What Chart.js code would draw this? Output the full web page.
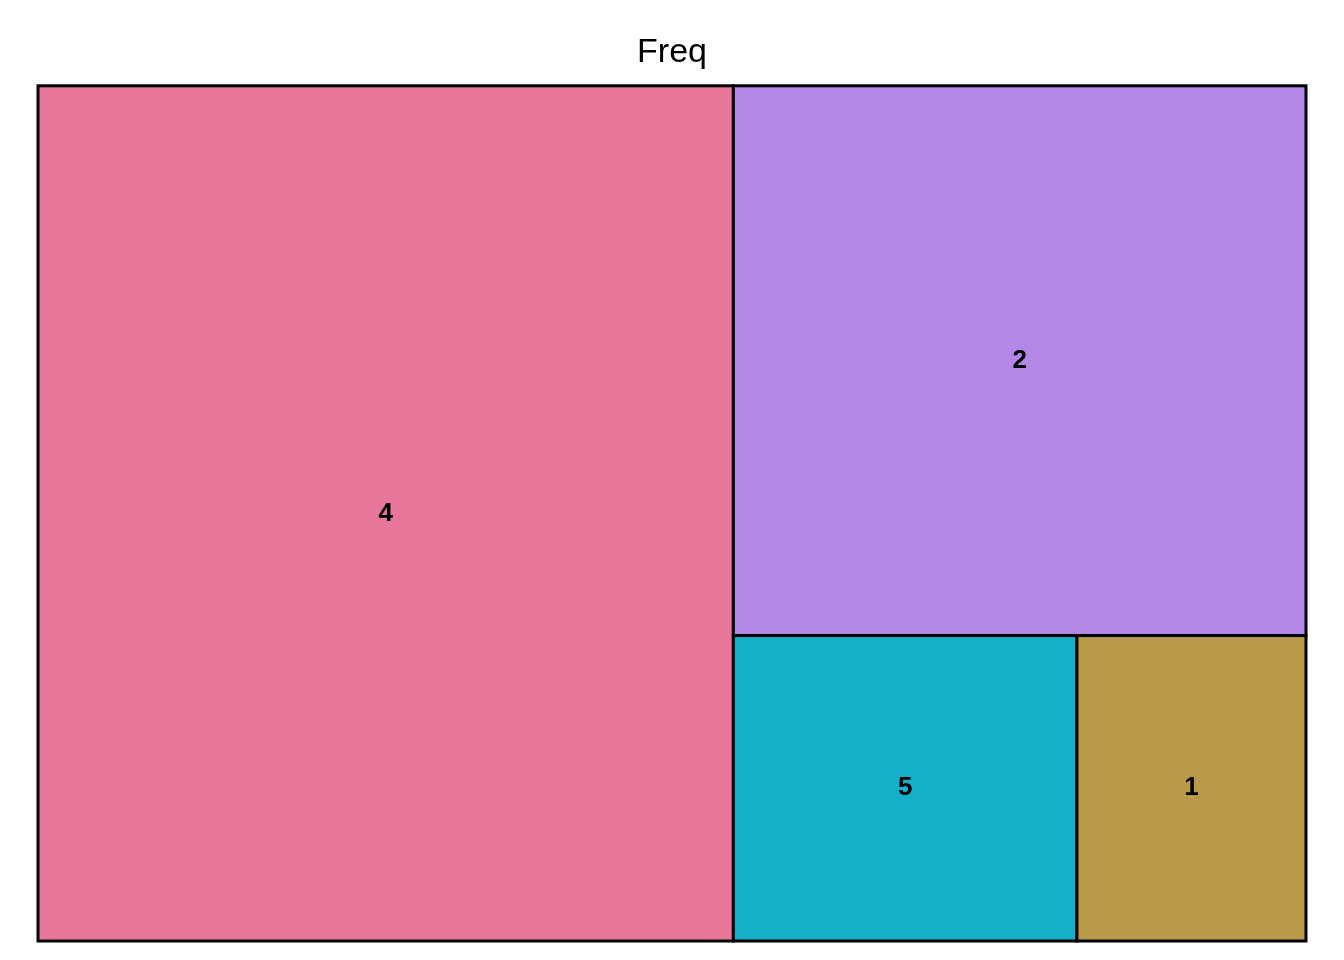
<!DOCTYPE html>
<html>
<head>
<meta charset="utf-8">
<script src="https://cdn.jsdelivr.net/npm/chart.js@4"></script>
<style>
  body { margin: 0; background: #fff; }
  #wrap { width: 1344px; height: 960px; }
</style>
</head>
<body>
<div id="wrap"><canvas id="chart"></canvas></div>
<script>
const labels = ['4', '2', '5', '1'];
const freq = [17, 9, 3, 2];
const colors = ['#E7779A', '#B387E6', '#16AFC8', '#B99A48'];

// squarified layout in box (0..aw, 0..1), returns rects in unit coords
function squarify(values, aw) {
    const total = values.reduce((a, b) => a + b, 0);
    const areas = values.map(v => v / total * aw);
    let box = { x: 0, y: 0, w: aw, h: 1 };
    const out = [];
    let i = 0;
    function worst(row, side) {
        const s = row.reduce((a, b) => a + b, 0);
        let w = 0;
        row.forEach(r => { w = Math.max(w, side * side * r / (s * s), s * s / (side * side * r)); });
        return w;
    }
    while (i < areas.length) {
        const side = Math.min(box.w, box.h);
        let row = [areas[i]];
        let j = i + 1;
        while (j < areas.length && worst(row.concat(areas[j]), side) <= worst(row, side)) {
            row.push(areas[j]); j++;
        }
        const s = row.reduce((a, b) => a + b, 0);
        if (box.w >= box.h) {
            const cw = s / box.h;
            let y = box.y;
            row.forEach(r => { const h = r / cw; out.push({ x: box.x, y: y, w: cw, h: h }); y += h; });
            box = { x: box.x + cw, y: box.y, w: box.w - cw, h: box.h };
        } else {
            const rh = s / box.w;
            let x = box.x;
            row.forEach(r => { const w = r / rh; out.push({ x: x, y: box.y, w: w, h: rh }); x += w; });
            box = { x: box.x, y: box.y + rh, w: box.w, h: box.h - rh };
        }
        i = j;
    }
    return out.map(r => ({ x0: r.x / aw, x1: (r.x + r.w) / aw, y0: r.y, y1: r.y + r.h }));
}

const treemapPlugin = {
    id: 'treemap',
    afterDatasetsDraw(chart) {
        const { ctx, chartArea, scales } = chart;
        const aw = chartArea.width / chartArea.height;
        const rects = squarify(freq, aw);
        ctx.save();
        rects.forEach((r, k) => {
            const x0 = scales.x.getPixelForValue(r.x0);
            const x1 = scales.x.getPixelForValue(r.x1);
            const y0 = scales.y.getPixelForValue(r.y0);
            const y1 = scales.y.getPixelForValue(r.y1);
            ctx.fillStyle = colors[k];
            ctx.fillRect(x0, y0, x1 - x0, y1 - y0);
            ctx.lineWidth = 3;
            ctx.strokeStyle = '#000';
            ctx.strokeRect(x0, y0, x1 - x0, y1 - y0);
            ctx.fillStyle = '#000';
            ctx.font = 'bold 26px "Liberation Sans", Arial, sans-serif';
            ctx.textAlign = 'center';
            ctx.textBaseline = 'middle';
            ctx.fillText(labels[k], (x0 + x1) / 2, (y0 + y1) / 2);
        });
        ctx.restore();
    }
};

new Chart(document.getElementById('chart'), {
    type: 'scatter',
    data: { datasets: [{ data: [], pointRadius: 0 }] },
    options: {
        responsive: true,
        maintainAspectRatio: false,
        animation: false,
        layout: { padding: { left: 38, right: 38, bottom: 19 } },
        plugins: {
            legend: { display: false },
            tooltip: { enabled: false },
            title: {
                display: true,
                text: 'Freq',
                color: '#000',
                font: { size: 34, weight: 'normal', family: '"Liberation Sans", Arial, sans-serif' },
                padding: { top: 32, bottom: 13 }
            }
        },
        scales: {
            x: { type: 'linear', min: 0, max: 1, display: false },
            y: { type: 'linear', min: 0, max: 1, reverse: true, display: false }
        }
    },
    plugins: [treemapPlugin]
});
</script>
</body>
</html>
